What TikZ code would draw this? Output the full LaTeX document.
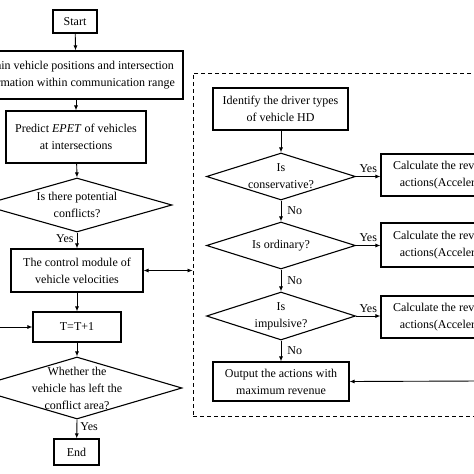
\documentclass[tikz,border=0pt]{standalone}
\usepackage{fontspec}
\setmainfont{Liberation Serif}
\usetikzlibrary{shapes.geometric,arrows.meta}
\begin{document}
\begin{tikzpicture}[x=1pt,y=-1pt,
  every node/.style={font=\fontsize{12}{17}\selectfont, align=center, inner sep=0pt},
  box/.style={draw, line width=1.1pt, rectangle},
  dia/.style={draw, line width=1.1pt, diamond, inner sep=0pt},
  txt/.style={},
  arr/.style={line width=0.9pt, -{Latex[length=5pt,width=4pt]}},
  darr/.style={line width=0.7pt, {Latex[length=5pt,width=4pt]}-{Latex[length=5pt,width=4pt]}},
  lab/.style={font=\fontsize{12}{14}\selectfont}
]
\useasboundingbox (0,0) rectangle (474,474);
\clip (0,0) rectangle (474,474);
\fill[white] (0,0) rectangle (474,474);

% left column
\node[box, minimum width=44pt, minimum height=23pt] (start) at (75,21.5) {Start};
\node[box, minimum width=214pt, minimum height=48pt] (obtain) at (76,75) {Obtain vehicle positions and intersection\\information within communication range};
\node[box, minimum width=140pt, minimum height=52pt] (predict) at (76,137) {Predict \textit{EPET} of vehicles\\at intersections};
\node[dia, minimum width=190pt, minimum height=54pt] (conf) at (77,205) {};
\node[txt] (conft) at (conf) {Is there potential\\conflicts?};
\node[box, minimum width=132pt, minimum height=43pt] (control) at (77,270.5) {The control module of\\vehicle velocities};
\node[box, minimum width=88pt, minimum height=30pt] (tbox) at (77,327) {T=T+1};
\node[dia, minimum width=210pt, minimum height=62pt] (left) at (77,388) {};
\node[txt] (leftt) at (left) {Whether the\\vehicle has left the\\conflict area?};
\node[box, minimum width=45pt, minimum height=26pt] (end) at (76.5,452) {End};

% dashed panel
\node[draw, dashed, dash pattern=on 4pt off 3pt, line width=0.9pt, minimum width=300pt, minimum height=343pt] (panel) at (343,244.5) {};

% right column
\node[box, minimum width=135pt, minimum height=42pt] (ident) at (280.5,109) {Identify the driver types\\of vehicle HD};
\node[dia, minimum width=149pt, minimum height=47pt] (c1) at (281,176.5) {};
\node[txt] (c1t) at (c1) {Is\\conservative?};
\node[dia, minimum width=149pt, minimum height=47pt] (c2) at (281,245.5) {};
\node[txt] (c2t) at (c2) {Is ordinary?};
\node[dia, minimum width=149pt, minimum height=48pt] (c3) at (281,316) {};
\node[txt] (c3t) at (c3) {Is\\impulsive?};
\node[box, minimum width=136pt, minimum height=39pt] (output) at (281,381.5) {Output the actions with\\maximum revenue};

\node[box, minimum width=141pt, minimum height=42pt] (calc1) at (451.5,175) {Calculate the revenue of\\actions(Acceleration)};
\node[box, minimum width=141pt, minimum height=44pt] (calc2) at (451.5,245) {Calculate the revenue of\\actions(Acceleration)};
\node[box, minimum width=141pt, minimum height=42pt] (calc3) at (451.5,317) {Calculate the revenue of\\actions(Acceleration)};

\coordinate (loopin) at (-5,327);
\coordinate (backin) at (480,381);

% connectors left
\draw[arr] (start) -- (obtain);
\draw[arr] (obtain) -- (predict);
\draw[arr] (predict) -- (conf.north);
\draw[arr] (conf.south) -- node[lab, anchor=east, xshift=-3pt, pos=0.4] (y1) {Yes} (control);
\draw[arr] (control) -- (tbox);
\draw[arr] (tbox) -- (left.north);
\draw[arr] (left.south) -- node[lab, anchor=west, xshift=3pt, pos=0.4] (y2) {Yes} (end);
\draw[arr] (loopin) -- (tbox.west);
\draw[darr] (control.east) -- (control.east -| panel.west);

% connectors right
\draw[arr] (ident.south -| c1.north) -- (c1.north);
\draw[arr] (c1.east) -- node[lab, above=3pt] (y3) {Yes} (c1.east -| calc1.west);
\draw[arr] (c2.east) -- node[lab, above=3pt] (y4) {Yes} (c2.east -| calc2.west);
\draw[arr] (c3.east) -- node[lab, above=3pt] (y5) {Yes} (c3.east -| calc3.west);
\draw[arr] (c1.south) -- node[lab, anchor=west, xshift=6pt] (n1) {No} (c2.north);
\draw[arr] (c2.south) -- node[lab, anchor=west, xshift=6pt] (n2) {No} (c3.north);
\draw[arr] (c3.south) -- node[lab, anchor=west, xshift=6pt] (n3) {No} (output.north);
\draw[arr] (backin) -- (output.east);
\end{tikzpicture}
\end{document}
